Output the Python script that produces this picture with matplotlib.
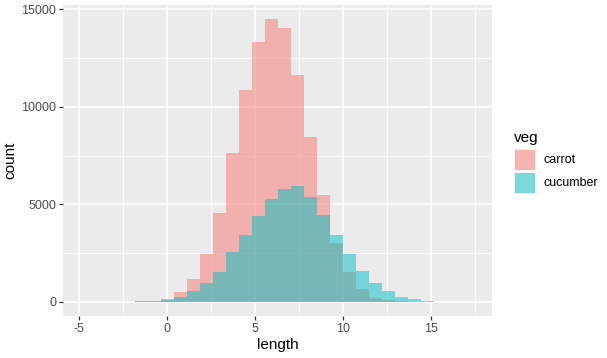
import matplotlib
matplotlib.use('Agg')
import matplotlib.pyplot as plt
from matplotlib.patches import Rectangle

# 30 bins, same edges for both series (ggplot default bins=30)
bin_start = -4.82
bin_width = 0.739
n_bins = 30

veg = ['carrot', 'cucumber']
colors = ['#F8766D', '#00BFC4']

carrot = [0, 0, 0, 0, 20, 40, 150, 510, 1180, 2460, 4560, 7630, 10850, 13310,
          14490, 14030, 11620, 8450, 5480, 3020, 1540, 665, 205, 100, 30, 0, 0, 0, 0, 0]
cucumber = [0, 0, 0, 0, 35, 50, 100, 256, 563, 973, 1540, 2560, 3430, 4400,
            5270, 5790, 5940, 5380, 4450, 3430, 2460, 1590, 973, 563, 256, 150, 50, 0, 0, 0]

x_ticks = [-5, 0, 5, 10, 15]
y_ticks = [0, 5000, 10000, 15000]

plt.rcParams['font.family'] = ['Liberation Sans', 'DejaVu Sans']
plt.rcParams['axes.unicode_minus'] = False

W, H = 607, 358
fig = plt.figure(figsize=(W / 100, H / 100), dpi=100)
fig.patch.set_facecolor('white')
ax = fig.add_axes([63 / W, 1 - 316 / H, (492 - 63) / W, (316 - 5) / H])
ax.set_facecolor('#EBEBEB')

lefts = [bin_start + i * bin_width for i in range(n_bins)]
for counts, c in zip([carrot, cucumber], colors):
    ax.bar(lefts, counts, width=bin_width, align='edge', color=c, alpha=0.5,
           linewidth=0, zorder=3)

# limits with ggplot 5% expansion
x0, x1 = bin_start, bin_start + n_bins * bin_width
ymax = max(max(carrot), max(cucumber))
ax.set_xlim(x0 - 0.05 * (x1 - x0), x1 + 0.05 * (x1 - x0))
ax.set_ylim(-0.05 * ymax, 1.05 * ymax)

ax.set_xticks(x_ticks)
ax.set_yticks(y_ticks)
ax.set_xticks([-2.5, 2.5, 7.5, 12.5, 17.5], minor=True)
ax.set_yticks([2500, 7500, 12500], minor=True)
ax.grid(True, which='major', color='white', linewidth=1.1, zorder=1)
ax.grid(True, which='minor', color='white', linewidth=0.55, zorder=1)
ax.set_axisbelow(True)
for s in ax.spines.values():
    s.set_visible(False)
ax.tick_params(which='major', length=3, width=0.9, color='#333333',
               labelcolor='#4D4D4D', labelsize=9, pad=2)
ax.tick_params(which='minor', length=0)

ax.set_xlabel('length', fontsize=11, color='black', labelpad=2)
ax.set_ylabel('count', fontsize=11, color='black', labelpad=3)

# legend
fig.text(514 / W, 1 - 138 / H, 'veg', fontsize=11, va='center', ha='left')
for i, (name, c) in enumerate(zip(veg, colors)):
    top = 149 + i * 23
    fig.add_artist(Rectangle((514 / W, 1 - (top + 22) / H), 22 / W, 22 / H,
                             transform=fig.transFigure, facecolor='#F2F2F2',
                             edgecolor='none'))
    fig.add_artist(Rectangle((515 / W, 1 - (top + 21) / H), 20 / W, 20 / H,
                             transform=fig.transFigure, facecolor=c, alpha=0.5,
                             edgecolor='none'))
    fig.text(544 / W, 1 - (top + 11) / H, name, fontsize=9, va='center', ha='left')

fig.savefig('out.png', dpi=100)
